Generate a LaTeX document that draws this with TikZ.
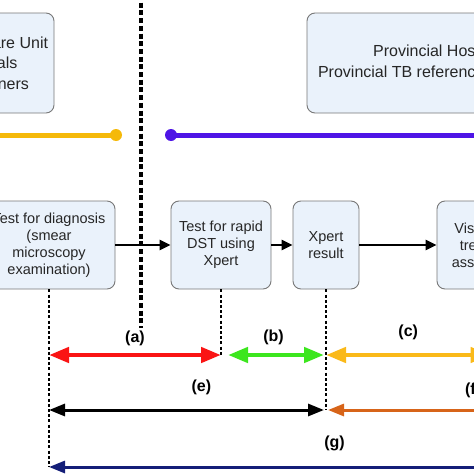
\documentclass[tikz,border=0pt]{standalone}
\usepackage{fontspec}
\setmainfont{Liberation Sans}
\usetikzlibrary{arrows.meta}
\definecolor{boxfill}{RGB}{234,242,251}
\definecolor{boxline}{RGB}{120,120,120}
\definecolor{goldline}{RGB}{245,185,10}
\definecolor{purpleline}{RGB}{78,20,230}
\definecolor{colA}{RGB}{250,20,20}
\definecolor{colB}{RGB}{60,230,30}
\definecolor{colC}{RGB}{250,185,25}
\definecolor{colF}{RGB}{215,100,25}
\definecolor{colG}{RGB}{20,30,120}
\begin{document}
\begin{tikzpicture}[x=1pt,y=-1pt,
  box/.style={draw=boxline,fill=boxfill,rounded corners=8pt,line width=0.9pt,align=center,inner sep=0pt,text=black!85},
  topfont/.style={font=\fontsize{16}{20.5}\selectfont},
  rowfont/.style={font=\fontsize{14.5}{17}\selectfont},
  flowarrow/.style={-{Triangle[length=11pt,width=10pt]},line width=2.6pt},
  sepline/.style={line width=3.2pt,dash pattern=on 5pt off 2.7pt},
  footline/.style={line width=2pt,dash pattern=on 3pt off 2.2pt},
  dotnode/.style={circle,inner sep=0pt,minimum size=12pt},
  timespan/.style={{Triangle[length=20pt,width=15pt]}-{Triangle[length=20pt,width=15pt]},line width=4.5pt},
  thinspan/.style={{Triangle[length=16pt,width=12pt]}-{Triangle[length=16pt,width=12pt]},line width=3pt},
  lbl/.style={font=\fontsize{16}{16}\selectfont\bfseries,inner sep=0pt,text=black}]

  \useasboundingbox (0,0) rectangle (474,474);
  \clip (0,0) rectangle (474,474);

  \node[box,topfont,minimum width=139pt,minimum height=100pt] (pcu) at (-15.5,63) {Primary Care Unit\\Hospitals\\Practitioners};
  \node[box,topfont,minimum width=264pt,minimum height=100pt] (ph) at (439,63) {Provincial Hospital\\Provincial TB reference laboratory};

  \node[box,rowfont,minimum width=132pt,minimum height=88pt] (diag) at (49,245) {Test for diagnosis\\(smear\\microscopy\\examination)};
  \node[box,rowfont,minimum width=100pt,minimum height=88pt] (dst) at (221,245) {Test for rapid\\DST using\\Xpert};
  \node[box,rowfont,minimum width=66pt,minimum height=88pt] (res) at (326,245) {Xpert\\result};
  \node[box,rowfont,minimum width=107pt,minimum height=88pt] (visit) at (490.5,245) {Visit for the\\treatment\\assessment};

  \path[flowarrow]
   (diag) edge (dst)
   (dst) edge (res)
   (res) edge (visit);

  \coordinate (goldstart) at (-10,135);
  \node[dotnode,fill=goldline] (golddot) at (116,135) {};
  \node[dotnode,fill=purpleline] (purpledot) at (171,135) {};
  \coordinate (purpleend) at (480,135);
  \draw[goldline,line width=5pt] (goldstart) -- (golddot.center);
  \draw[purpleline,line width=5pt] (purpledot.center) -- (purpleend);

  \coordinate (cuttop) at (141,-5);
  \coordinate (cutbot) at (141,328);
  \draw[sepline] (cuttop) -- (cutbot);

  \coordinate (rowa) at (0,355);
  \coordinate (rowe) at (0,410);
  \coordinate (rowg) at (0,467);
  \coordinate (fend) at (620,410);
  \coordinate (gend) at (620,467);

  \draw[footline] (diag.south) -- (diag.south |- rowg);
  \draw[footline] (dst.south) -- (dst.south |- rowa);
  \draw[footline] (res.south) -- (res.south |- rowe);

  \path
   (diag.south |- rowa) edge[timespan,colA] node[lbl,above=7pt]{(a)} (dst.south |- rowa)
   (dst.south |- rowa) edge[timespan,colB,shorten <=7pt,shorten >=2pt] node[lbl,above=8pt]{(b)} (res.south |- rowa)
   (res.south |- rowa) edge[timespan,colC] node[lbl,above=13pt]{(c)} (visit.south |- rowa)

   (diag.south |- rowe) edge[thinspan,black,shorten >=2pt] node[lbl,above=14pt,pos=0.55]{(e)} (res.south |- rowe)
   (res.south |- rowe) edge[thinspan,colF,shorten <=2pt] node[lbl,above=11pt]{(f)} (fend)

   (diag.south |- rowg) edge[thinspan,colG] node[lbl,above=15pt]{(g)} (gend);
\end{tikzpicture}
\end{document}
